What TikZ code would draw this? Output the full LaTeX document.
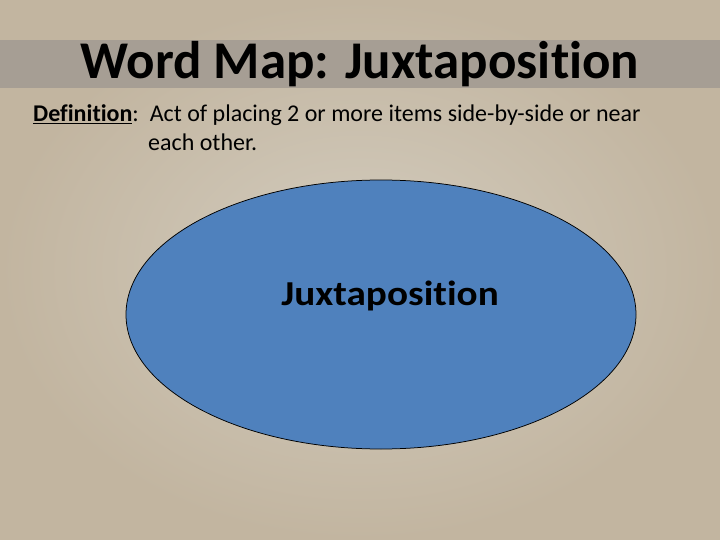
\documentclass[tikz,border=0pt]{standalone}
\usepackage{fontspec}
\usepackage{graphicx}
\setmainfont{Carlito}[Ligatures=NoCommon]
\definecolor{parchin}{HTML}{D3CCBE}
\definecolor{parchout}{HTML}{C2B5A0}
\definecolor{bandcol}{HTML}{A69E94}
\definecolor{ellblue}{HTML}{4F81BD}
\tikzset{
  titletext/.style={font=\fontsize{53}{60}\selectfont\bfseries, text=black, inner sep=0pt},
  deftext/.style={font=\fontsize{24}{29}\selectfont, text=black, inner sep=0pt, anchor=base west},
  bubble/.style={draw=black, line width=0.75pt, fill=ellblue}
}
\begin{document}
\begin{tikzpicture}[x=1pt,y=-1pt]
\useasboundingbox (0,0) rectangle (720,540);
\shade[inner color=parchin, outer color=parchout] (0,0) rectangle (720,540);
\fill[bandcol] (0,40) rectangle (720,88);
\node[titletext, anchor=base] (title) at (360,79) {Word Map: Juxtaposition};
\node[deftext] (def1) at (33,122) {\underline{\textbf{Definition}}:\ \ Act of placing 2 or more items side-by-side or near};
\node[deftext] (def2) at (148,151) {each other.};
\draw[bubble] (381,314.5) ellipse [x radius=255, y radius=134.5];
\node[font=\fontsize{35}{42}\selectfont\bfseries, inner sep=0pt, anchor=base] (word) at (390,305) {\scalebox{1.12}[1]{Juxtaposition}};
\end{tikzpicture}
\end{document}
